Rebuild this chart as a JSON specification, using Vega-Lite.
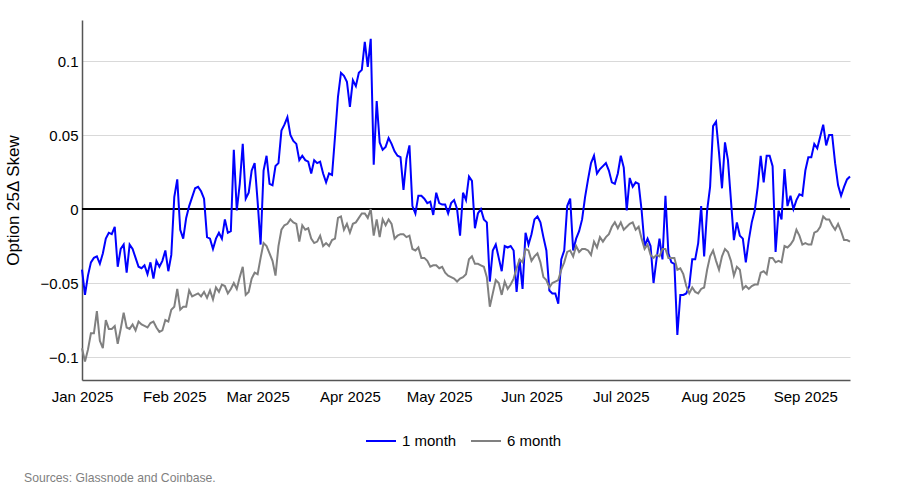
{
  "$schema": "https://vega.github.io/schema/vega-lite/v6.json",
  "width": 768,
  "height": 360,
  "autosize": {"type": "none"},
  "padding": {"left": 82, "top": 20, "right": 50, "bottom": 120},
  "background": "white",
  "config": {
    "font": "Liberation Sans",
    "view": {"stroke": null},
    "axis": {
      "labelFont": "Liberation Sans",
      "labelFontSize": 15,
      "labelColor": "#000000",
      "ticks": false,
      "tickSize": 0,
      "domainColor": "#555555",
      "domainWidth": 1.5,
      "titleFont": "Liberation Sans",
      "titleFontWeight": "normal",
      "titleColor": "#000000"
    }
  },
  "title": {
    "text": "Sources: Glassnode and Coinbase.",
    "orient": "bottom",
    "anchor": "start",
    "frame": "group",
    "dx": -58,
    "offset": 23,
    "font": "Liberation Sans",
    "fontSize": 12.2,
    "fontWeight": "normal",
    "color": "#7f7f7f"
  },
  "layer": [
    {
      "data": {"values": [{}]},
      "mark": {"type": "rule", "color": "#000000", "strokeWidth": 2},
      "encoding": {"y": {"datum": 0}}
    },
    {
      "data": {"values": [
{"d":"2025-01-01","m1":-0.041,"m6":-0.094},
{"d":"2025-01-02","m1":-0.058,"m6":-0.103},
{"d":"2025-01-03","m1":-0.045,"m6":-0.095},
{"d":"2025-01-04","m1":-0.036,"m6":-0.084},
{"d":"2025-01-05","m1":-0.033,"m6":-0.084},
{"d":"2025-01-06","m1":-0.032,"m6":-0.069},
{"d":"2025-01-07","m1":-0.037,"m6":-0.089},
{"d":"2025-01-08","m1":-0.030,"m6":-0.094},
{"d":"2025-01-09","m1":-0.020,"m6":-0.075},
{"d":"2025-01-10","m1":-0.016,"m6":-0.081},
{"d":"2025-01-11","m1":-0.017,"m6":-0.081},
{"d":"2025-01-12","m1":-0.012,"m6":-0.079},
{"d":"2025-01-13","m1":-0.039,"m6":-0.091},
{"d":"2025-01-14","m1":-0.027,"m6":-0.081},
{"d":"2025-01-15","m1":-0.024,"m6":-0.070},
{"d":"2025-01-16","m1":-0.043,"m6":-0.080},
{"d":"2025-01-17","m1":-0.024,"m6":-0.081},
{"d":"2025-01-18","m1":-0.027,"m6":-0.078},
{"d":"2025-01-19","m1":-0.033,"m6":-0.082},
{"d":"2025-01-20","m1":-0.039,"m6":-0.076},
{"d":"2025-01-21","m1":-0.040,"m6":-0.078},
{"d":"2025-01-22","m1":-0.038,"m6":-0.079},
{"d":"2025-01-23","m1":-0.044,"m6":-0.080},
{"d":"2025-01-24","m1":-0.036,"m6":-0.077},
{"d":"2025-01-25","m1":-0.047,"m6":-0.076},
{"d":"2025-01-26","m1":-0.035,"m6":-0.080},
{"d":"2025-01-27","m1":-0.039,"m6":-0.083},
{"d":"2025-01-28","m1":-0.035,"m6":-0.082},
{"d":"2025-01-29","m1":-0.028,"m6":-0.075},
{"d":"2025-01-30","m1":-0.042,"m6":-0.076},
{"d":"2025-01-31","m1":-0.031,"m6":-0.068},
{"d":"2025-02-01","m1":0.008,"m6":-0.066},
{"d":"2025-02-02","m1":0.020,"m6":-0.054},
{"d":"2025-02-03","m1":-0.014,"m6":-0.068},
{"d":"2025-02-04","m1":-0.020,"m6":-0.066},
{"d":"2025-02-05","m1":-0.006,"m6":-0.066},
{"d":"2025-02-06","m1":0.002,"m6":-0.055},
{"d":"2025-02-07","m1":0.008,"m6":-0.059},
{"d":"2025-02-08","m1":0.014,"m6":-0.058},
{"d":"2025-02-09","m1":0.015,"m6":-0.057},
{"d":"2025-02-10","m1":0.012,"m6":-0.059},
{"d":"2025-02-11","m1":0.007,"m6":-0.056},
{"d":"2025-02-12","m1":-0.019,"m6":-0.060},
{"d":"2025-02-13","m1":-0.020,"m6":-0.055},
{"d":"2025-02-14","m1":-0.027,"m6":-0.061},
{"d":"2025-02-15","m1":-0.020,"m6":-0.053},
{"d":"2025-02-16","m1":-0.016,"m6":-0.056},
{"d":"2025-02-17","m1":-0.020,"m6":-0.051},
{"d":"2025-02-18","m1":-0.007,"m6":-0.052},
{"d":"2025-02-19","m1":-0.016,"m6":-0.057},
{"d":"2025-02-20","m1":-0.015,"m6":-0.054},
{"d":"2025-02-21","m1":0.040,"m6":-0.050},
{"d":"2025-02-22","m1":-0.001,"m6":-0.054},
{"d":"2025-02-23","m1":0.017,"m6":-0.046},
{"d":"2025-02-24","m1":0.044,"m6":-0.039},
{"d":"2025-02-25","m1":0.007,"m6":-0.058},
{"d":"2025-02-26","m1":0.011,"m6":-0.056},
{"d":"2025-02-27","m1":0.026,"m6":-0.047},
{"d":"2025-02-28","m1":0.031,"m6":-0.043},
{"d":"2025-03-01","m1":0.005,"m6":-0.044},
{"d":"2025-03-02","m1":-0.024,"m6":-0.033},
{"d":"2025-03-03","m1":0.026,"m6":-0.023},
{"d":"2025-03-04","m1":0.036,"m6":-0.025},
{"d":"2025-03-05","m1":0.017,"m6":-0.030},
{"d":"2025-03-06","m1":0.016,"m6":-0.035},
{"d":"2025-03-07","m1":0.029,"m6":-0.045},
{"d":"2025-03-08","m1":0.031,"m6":-0.025},
{"d":"2025-03-09","m1":0.053,"m6":-0.014},
{"d":"2025-03-10","m1":0.057,"m6":-0.011},
{"d":"2025-03-11","m1":0.062,"m6":-0.010},
{"d":"2025-03-12","m1":0.050,"m6":-0.007},
{"d":"2025-03-13","m1":0.046,"m6":-0.009},
{"d":"2025-03-14","m1":0.044,"m6":-0.010},
{"d":"2025-03-15","m1":0.033,"m6":-0.022},
{"d":"2025-03-16","m1":0.036,"m6":-0.011},
{"d":"2025-03-17","m1":0.033,"m6":-0.014},
{"d":"2025-03-18","m1":0.032,"m6":-0.013},
{"d":"2025-03-19","m1":0.024,"m6":-0.020},
{"d":"2025-03-20","m1":0.033,"m6":-0.023},
{"d":"2025-03-21","m1":0.031,"m6":-0.022},
{"d":"2025-03-22","m1":0.032,"m6":-0.018},
{"d":"2025-03-23","m1":0.024,"m6":-0.025},
{"d":"2025-03-24","m1":0.018,"m6":-0.023},
{"d":"2025-03-25","m1":0.024,"m6":-0.025},
{"d":"2025-03-26","m1":0.023,"m6":-0.021},
{"d":"2025-03-27","m1":0.049,"m6":-0.020},
{"d":"2025-03-28","m1":0.076,"m6":-0.006},
{"d":"2025-03-29","m1":0.092,"m6":-0.005},
{"d":"2025-03-30","m1":0.090,"m6":-0.014},
{"d":"2025-03-31","m1":0.086,"m6":-0.010},
{"d":"2025-04-01","m1":0.069,"m6":-0.016},
{"d":"2025-04-02","m1":0.087,"m6":-0.010},
{"d":"2025-04-03","m1":0.083,"m6":-0.009},
{"d":"2025-04-04","m1":0.092,"m6":-0.006},
{"d":"2025-04-05","m1":0.094,"m6":-0.003},
{"d":"2025-04-06","m1":0.113,"m6":-0.003},
{"d":"2025-04-07","m1":0.096,"m6":-0.006},
{"d":"2025-04-08","m1":0.115,"m6":0.000},
{"d":"2025-04-09","m1":0.030,"m6":-0.018},
{"d":"2025-04-10","m1":0.073,"m6":-0.007},
{"d":"2025-04-11","m1":0.045,"m6":-0.019},
{"d":"2025-04-12","m1":0.040,"m6":-0.007},
{"d":"2025-04-13","m1":0.042,"m6":-0.011},
{"d":"2025-04-14","m1":0.048,"m6":-0.007},
{"d":"2025-04-15","m1":0.044,"m6":-0.010},
{"d":"2025-04-16","m1":0.039,"m6":-0.020},
{"d":"2025-04-17","m1":0.036,"m6":-0.018},
{"d":"2025-04-18","m1":0.035,"m6":-0.017},
{"d":"2025-04-19","m1":0.013,"m6":-0.017},
{"d":"2025-04-20","m1":0.034,"m6":-0.019},
{"d":"2025-04-21","m1":0.043,"m6":-0.018},
{"d":"2025-04-22","m1":0.002,"m6":-0.027},
{"d":"2025-04-23","m1":-0.003,"m6":-0.028},
{"d":"2025-04-24","m1":0.009,"m6":-0.026},
{"d":"2025-04-25","m1":0.009,"m6":-0.033},
{"d":"2025-04-26","m1":0.007,"m6":-0.033},
{"d":"2025-04-27","m1":0.004,"m6":-0.035},
{"d":"2025-04-28","m1":0.005,"m6":-0.039},
{"d":"2025-04-29","m1":-0.004,"m6":-0.038},
{"d":"2025-04-30","m1":0.011,"m6":-0.038},
{"d":"2025-05-01","m1":0.004,"m6":-0.040},
{"d":"2025-05-02","m1":0.003,"m6":-0.039},
{"d":"2025-05-03","m1":0.003,"m6":-0.043},
{"d":"2025-05-04","m1":-0.003,"m6":-0.045},
{"d":"2025-05-05","m1":0.004,"m6":-0.046},
{"d":"2025-05-06","m1":0.006,"m6":-0.047},
{"d":"2025-05-07","m1":0.000,"m6":-0.049},
{"d":"2025-05-08","m1":-0.018,"m6":-0.047},
{"d":"2025-05-09","m1":0.011,"m6":-0.046},
{"d":"2025-05-10","m1":0.006,"m6":-0.044},
{"d":"2025-05-11","m1":0.022,"m6":-0.034},
{"d":"2025-05-12","m1":0.019,"m6":-0.032},
{"d":"2025-05-13","m1":-0.013,"m6":-0.037},
{"d":"2025-05-14","m1":-0.003,"m6":-0.037},
{"d":"2025-05-15","m1":0.000,"m6":-0.038},
{"d":"2025-05-16","m1":-0.007,"m6":-0.039},
{"d":"2025-05-17","m1":-0.009,"m6":-0.046},
{"d":"2025-05-18","m1":-0.049,"m6":-0.066},
{"d":"2025-05-19","m1":-0.028,"m6":-0.057},
{"d":"2025-05-20","m1":-0.024,"m6":-0.048},
{"d":"2025-05-21","m1":-0.033,"m6":-0.050},
{"d":"2025-05-22","m1":-0.042,"m6":-0.058},
{"d":"2025-05-23","m1":-0.025,"m6":-0.049},
{"d":"2025-05-24","m1":-0.026,"m6":-0.054},
{"d":"2025-05-25","m1":-0.025,"m6":-0.051},
{"d":"2025-05-26","m1":-0.028,"m6":-0.047},
{"d":"2025-05-27","m1":-0.056,"m6":-0.040},
{"d":"2025-05-28","m1":-0.034,"m6":-0.034},
{"d":"2025-05-29","m1":-0.054,"m6":-0.036},
{"d":"2025-05-30","m1":-0.016,"m6":-0.027},
{"d":"2025-05-31","m1":-0.024,"m6":-0.028},
{"d":"2025-06-01","m1":-0.017,"m6":-0.035},
{"d":"2025-06-02","m1":-0.007,"m6":-0.032},
{"d":"2025-06-03","m1":-0.005,"m6":-0.030},
{"d":"2025-06-04","m1":-0.009,"m6":-0.036},
{"d":"2025-06-05","m1":-0.019,"m6":-0.046},
{"d":"2025-06-06","m1":-0.028,"m6":-0.048},
{"d":"2025-06-07","m1":-0.055,"m6":-0.053},
{"d":"2025-06-08","m1":-0.057,"m6":-0.050},
{"d":"2025-06-09","m1":-0.057,"m6":-0.049},
{"d":"2025-06-10","m1":-0.064,"m6":-0.048},
{"d":"2025-06-11","m1":-0.034,"m6":-0.041},
{"d":"2025-06-12","m1":-0.028,"m6":-0.036},
{"d":"2025-06-13","m1":0.002,"m6":-0.029},
{"d":"2025-06-14","m1":0.007,"m6":-0.028},
{"d":"2025-06-15","m1":-0.028,"m6":-0.032},
{"d":"2025-06-16","m1":-0.020,"m6":-0.025},
{"d":"2025-06-17","m1":-0.015,"m6":-0.029},
{"d":"2025-06-18","m1":-0.007,"m6":-0.027},
{"d":"2025-06-19","m1":0.008,"m6":-0.027},
{"d":"2025-06-20","m1":0.020,"m6":-0.028},
{"d":"2025-06-21","m1":0.031,"m6":-0.031},
{"d":"2025-06-22","m1":0.036,"m6":-0.022},
{"d":"2025-06-23","m1":0.024,"m6":-0.026},
{"d":"2025-06-24","m1":0.027,"m6":-0.019},
{"d":"2025-06-25","m1":0.029,"m6":-0.022},
{"d":"2025-06-26","m1":0.031,"m6":-0.019},
{"d":"2025-06-27","m1":0.026,"m6":-0.017},
{"d":"2025-06-28","m1":0.018,"m6":-0.012},
{"d":"2025-06-29","m1":0.017,"m6":-0.009},
{"d":"2025-06-30","m1":0.024,"m6":-0.013},
{"d":"2025-07-01","m1":0.036,"m6":-0.009},
{"d":"2025-07-02","m1":0.028,"m6":-0.014},
{"d":"2025-07-03","m1":-0.001,"m6":-0.012},
{"d":"2025-07-04","m1":0.021,"m6":-0.010},
{"d":"2025-07-05","m1":0.015,"m6":-0.009},
{"d":"2025-07-06","m1":0.018,"m6":-0.014},
{"d":"2025-07-07","m1":0.017,"m6":-0.012},
{"d":"2025-07-08","m1":-0.001,"m6":-0.020},
{"d":"2025-07-09","m1":-0.025,"m6":-0.027},
{"d":"2025-07-10","m1":-0.020,"m6":-0.024},
{"d":"2025-07-11","m1":-0.025,"m6":-0.031},
{"d":"2025-07-12","m1":-0.050,"m6":-0.033},
{"d":"2025-07-13","m1":-0.034,"m6":-0.031},
{"d":"2025-07-14","m1":-0.020,"m6":-0.032},
{"d":"2025-07-15","m1":-0.034,"m6":-0.027},
{"d":"2025-07-16","m1":0.009,"m6":-0.027},
{"d":"2025-07-17","m1":-0.030,"m6":-0.033},
{"d":"2025-07-18","m1":-0.036,"m6":-0.033},
{"d":"2025-07-19","m1":-0.037,"m6":-0.033},
{"d":"2025-07-20","m1":-0.085,"m6":-0.041},
{"d":"2025-07-21","m1":-0.058,"m6":-0.040},
{"d":"2025-07-22","m1":-0.058,"m6":-0.044},
{"d":"2025-07-23","m1":-0.057,"m6":-0.052},
{"d":"2025-07-24","m1":-0.052,"m6":-0.057},
{"d":"2025-07-25","m1":-0.034,"m6":-0.053},
{"d":"2025-07-26","m1":-0.034,"m6":-0.056},
{"d":"2025-07-27","m1":-0.023,"m6":-0.057},
{"d":"2025-07-28","m1":0.002,"m6":-0.054},
{"d":"2025-07-29","m1":-0.032,"m6":-0.053},
{"d":"2025-07-30","m1":-0.001,"m6":-0.041},
{"d":"2025-07-31","m1":0.015,"m6":-0.032},
{"d":"2025-08-01","m1":0.056,"m6":-0.028},
{"d":"2025-08-02","m1":0.059,"m6":-0.035},
{"d":"2025-08-03","m1":0.038,"m6":-0.041},
{"d":"2025-08-04","m1":0.014,"m6":-0.032},
{"d":"2025-08-05","m1":0.045,"m6":-0.027},
{"d":"2025-08-06","m1":0.033,"m6":-0.029},
{"d":"2025-08-07","m1":0.006,"m6":-0.035},
{"d":"2025-08-08","m1":-0.021,"m6":-0.045},
{"d":"2025-08-09","m1":-0.009,"m6":-0.039},
{"d":"2025-08-10","m1":-0.018,"m6":-0.041},
{"d":"2025-08-11","m1":-0.020,"m6":-0.054},
{"d":"2025-08-12","m1":-0.036,"m6":-0.052},
{"d":"2025-08-13","m1":-0.021,"m6":-0.054},
{"d":"2025-08-14","m1":-0.009,"m6":-0.052},
{"d":"2025-08-15","m1":-0.001,"m6":-0.051},
{"d":"2025-08-16","m1":0.015,"m6":-0.051},
{"d":"2025-08-17","m1":0.036,"m6":-0.043},
{"d":"2025-08-18","m1":0.018,"m6":-0.042},
{"d":"2025-08-19","m1":0.036,"m6":-0.044},
{"d":"2025-08-20","m1":0.036,"m6":-0.033},
{"d":"2025-08-21","m1":0.029,"m6":-0.033},
{"d":"2025-08-22","m1":-0.029,"m6":-0.036},
{"d":"2025-08-23","m1":-0.001,"m6":-0.035},
{"d":"2025-08-24","m1":-0.007,"m6":-0.036},
{"d":"2025-08-25","m1":0.027,"m6":-0.025},
{"d":"2025-08-26","m1":0.002,"m6":-0.026},
{"d":"2025-08-27","m1":0.009,"m6":-0.024},
{"d":"2025-08-28","m1":0.000,"m6":-0.021},
{"d":"2025-08-29","m1":0.006,"m6":-0.014},
{"d":"2025-08-30","m1":0.010,"m6":-0.018},
{"d":"2025-08-31","m1":0.009,"m6":-0.024},
{"d":"2025-09-01","m1":0.026,"m6":-0.023},
{"d":"2025-09-02","m1":0.035,"m6":-0.024},
{"d":"2025-09-03","m1":0.035,"m6":-0.024},
{"d":"2025-09-04","m1":0.044,"m6":-0.016},
{"d":"2025-09-05","m1":0.041,"m6":-0.015},
{"d":"2025-09-06","m1":0.049,"m6":-0.012},
{"d":"2025-09-07","m1":0.057,"m6":-0.005},
{"d":"2025-09-08","m1":0.043,"m6":-0.007},
{"d":"2025-09-09","m1":0.050,"m6":-0.007},
{"d":"2025-09-10","m1":0.050,"m6":-0.011},
{"d":"2025-09-11","m1":0.031,"m6":-0.014},
{"d":"2025-09-12","m1":0.016,"m6":-0.010},
{"d":"2025-09-13","m1":0.009,"m6":-0.015},
{"d":"2025-09-14","m1":0.015,"m6":-0.021},
{"d":"2025-09-15","m1":0.020,"m6":-0.021},
{"d":"2025-09-16","m1":0.022,"m6":-0.022}
      ]},
      "transform": [{"fold": ["m1", "m6"], "as": ["series", "value"]}],
      "mark": {"type": "line", "strokeWidth": 2},
      "encoding": {
        "x": {
          "field": "d",
          "type": "temporal",
          "axis": {
            "title": null,
            "format": "%b %Y",
            "tickCount": {"interval": "month", "step": 1},
            "labelPadding": 9,
            "grid": false,
            "labelFlush": false,
            "labelOverlap": false
          }
        },
        "y": {
          "field": "value",
          "type": "quantitative",
          "scale": {"domain": [-0.1155, 0.1277], "nice": false, "zero": false},
          "axis": {
            "title": "Option 25Δ Skew",
            "titleFontSize": 17,
            "titlePadding": 18,
            "values": [-0.1, -0.05, 0, 0.05, 0.1],
            "format": ".2~f",
            "grid": true,
            "gridColor": "#d9d9d9",
            "gridWidth": 1,
            "labelPadding": 4
          }
        },
        "color": {
          "field": "series",
          "type": "nominal",
          "scale": {"domain": ["m1", "m6"], "range": ["#0000ff", "#808080"]},
          "legend": {
            "orient": "none",
            "legendX": 283,
            "legendY": 405,
            "direction": "horizontal",
            "title": null,
            "symbolType": "stroke",
            "symbolSize": 900,
            "symbolStrokeWidth": 2,
            "labelFont": "Liberation Sans",
            "labelFontSize": 15,
            "labelColor": "#000000",
            "labelOffset": 5,
            "columnPadding": 10,
            "padding": 0,
            "labelExpr": "datum.label == 'm1' ? '1 month' : '6 month'"
          }
        }
      }
    }
  ]
}
